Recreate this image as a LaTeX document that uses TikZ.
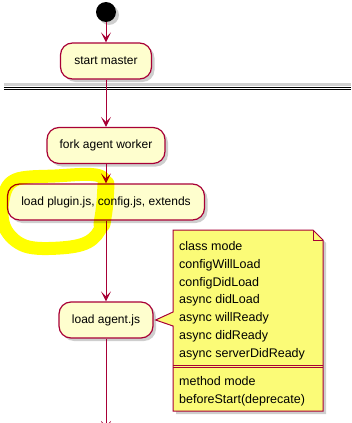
\documentclass[tikz,border=0pt]{standalone}
\usepackage{fontspec}
\setmainfont{Liberation Sans}
\usetikzlibrary{arrows.meta,positioning,shadows}
\definecolor{PUMLRed}{HTML}{A80036}
\definecolor{PUMLCream}{HTML}{FEFECE}
\definecolor{PUMLNote}{HTML}{FBFB77}
\definecolor{PUMLMarker}{HTML}{FFFF00}

\begin{document}
\begin{tikzpicture}[
  x=1pt, y=-1pt,
  softshadow/.style={drop shadow={shadow xshift=3pt, shadow yshift=-3pt, fill=black!35, opacity=.55}},
  actstep/.style={draw=PUMLRed, line width=1.2pt, fill=PUMLCream, rounded corners=12pt, minimum height=36pt, inner sep=0pt, font=\fontsize{12}{14}\selectfont, text height=8.6pt, text depth=2.4pt, softshadow},
  flow/.style={-{Stealth[length=10pt, width=10pt, inset=5pt]}, draw=PUMLRed, line width=1pt},
  link/.style={draw=PUMLRed, line width=1pt},
  syncline/.style={draw=black, line width=1pt},
  notebox/.style={draw=PUMLRed, line width=1pt, fill=PUMLNote},
  noteline/.style={anchor=base west, inner sep=0pt, font=\fontsize{12.5}{15}\selectfont},
  scribble/.style={draw=PUMLMarker, line cap=round, line join=round, blend mode=multiply}
]
\useasboundingbox (0,0) rectangle (351,423);
\node[circle, fill=black, minimum size=20pt, inner sep=0pt, softshadow] (start) at (106,12) {};
\node[actstep, minimum width=91pt] (master) at (106,61) {start master};
\node[minimum width=347pt, minimum height=1.9pt, inner sep=0pt] (bar) at (177.5,88.25) {};
\fill[black!18] ([yshift=4pt]bar.north west) rectangle ([yshift=1.5pt]bar.north east);
\draw[syncline] (bar.north west) -- (bar.north east);
\draw[syncline] (bar.south west) -- (bar.south east);
\node[actstep, minimum width=118pt] (fork) at (106,145.5) {fork agent worker};
\node[actstep, minimum width=197pt] (plugin) at (106,202) {load plugin.js, config.js, extends};
\node[actstep, minimum width=94pt] (agent) at (106,320) {load agent.js};
\coordinate (end) at (106,431);
\draw[link] (master) -- (bar.center -| master);
\draw[flow] (bar.center -| master) -- (fork);
\draw[flow] (start) -- (master);
\draw[flow] (fork) -- (plugin);
\draw[flow] (plugin) -- (agent);
\draw[flow] (agent) -- (end);
% note on agent.js
\fill[black!35, opacity=.55, shift={(3,3)}] (173,230) -- (313,230) -- (323,240) -- (323,411) -- (173,411) -- cycle;
\draw[notebox] (173,230) -- (313,230) -- (323,240) -- (323,411) -- (173,411) -- (173,326) -- ([xshift=2pt]agent.east) -- (173,312) -- cycle;
\draw[link] (313,230) -- (313,240) -- (323,240);
\draw[link] (173,365.7) -- (323,365.7);
\draw[link] (173,367.7) -- (323,367.7);
\foreach \txt [count=\i from 0] in {class mode, configWillLoad, configDidLoad, async didLoad, async willReady, async didReady, async serverDidReady}
  \node[noteline] (hook\i) at (179,250.5+17.8*\i) {\txt};
\node[noteline] (method0) at (179,385.7) {method mode};
\node[noteline] (method1) at (179,403.3) {beforeStart(deprecate)};
% hand drawn highlight
\draw[scribble, line width=13pt] plot[smooth cycle, tension=0.6] coordinates {(100,176) (55,176) (15,180) (3,200) (5,228) (25,246) (60,248) (88,242) (102,225) (105,196)};
\draw[scribble, line width=17pt] (106,184) .. controls (105,205) .. (102,224);
\end{tikzpicture}
\end{document}
